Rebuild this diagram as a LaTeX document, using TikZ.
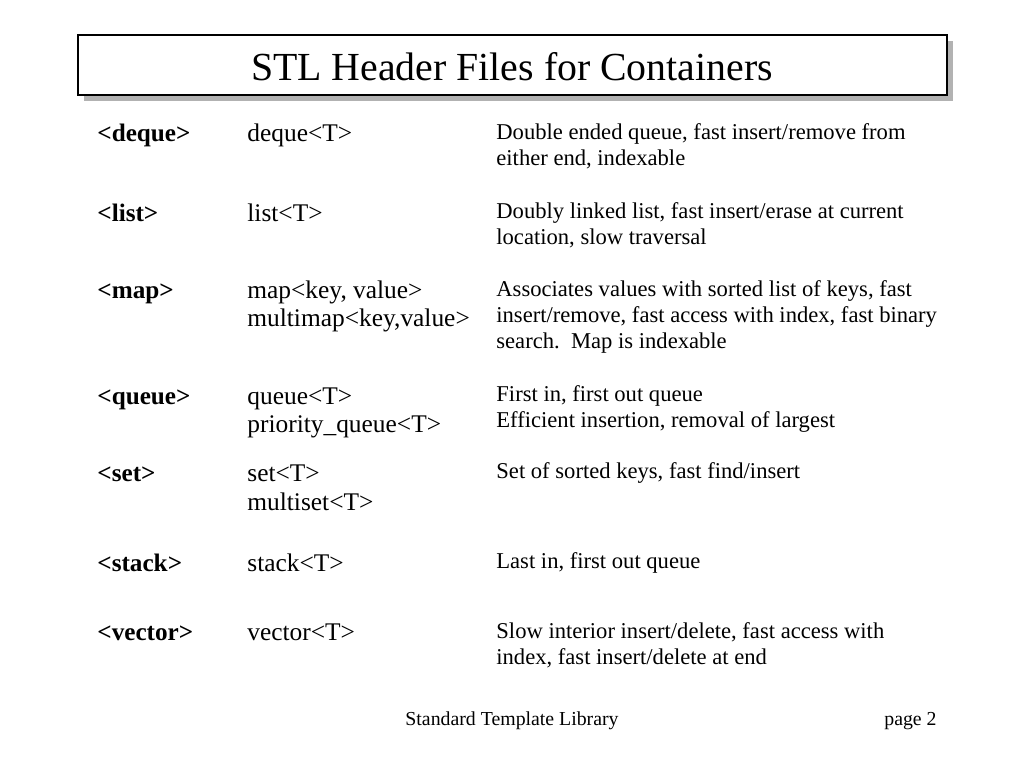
\documentclass[tikz,border=0pt]{standalone}
\usepackage{fontspec}
\setmainfont{Liberation Serif}
\begin{document}
\begin{tikzpicture}[x=0.5pt,y=-0.5pt,
   hdr/.style={anchor=base west,inner sep=0pt,font=\fontsize{12.6}{14}\selectfont\bfseries},
   cls/.style={anchor=base west,inner sep=0pt,font=\fontsize{12.7}{14}\selectfont},
   txt/.style={anchor=base west,inner sep=0pt,font=\fontsize{11.3}{13}\selectfont},
   foot/.style={inner sep=0pt,font=\fontsize{9.9}{11}\selectfont}]
   \useasboundingbox (0,0) rectangle (1024,768);
   % title box with shadow
   \fill[gray!60] (84,41) rectangle (953,101);
   \draw[fill=white,line width=0.6pt] (78,35) rectangle (947,95);
   \path (512,67) node[font=\fontsize{19.9}{22}\selectfont] (title) {STL Header Files for Containers};

   \path (97,141) node[hdr] (h1) {<deque>};
   \path (247,141) node[cls] (c1) {deque<T>};
   \path (496,139) node[txt] (d1a) {Double ended queue, fast insert/remove from};
   \path (496,165) node[txt] (d1b) {either end, indexable};

   \path (97,221) node[hdr] (h2) {<list>};
   \path (247,221) node[cls] (c2) {list<T>};
   \path (496,218) node[txt] (d2a) {Doubly linked list, fast insert/erase at current};
   \path (496,244) node[txt] (d2b) {location, slow traversal};

   \path (97,298) node[hdr] (h3) {<map>};
   \path (247,298) node[cls] (c3a) {map<key, value>};
   \path (247,326) node[cls] (c3b) {multimap<key,value>};
   \path (496,296) node[txt] (d3a) {Associates values with sorted list of keys, fast};
   \path (496,322) node[txt] (d3b) {insert/remove, fast access with index, fast binary};
   \path (496,348) node[txt] (d3c) {search.\ \ Map is indexable};

   \path (97,404) node[hdr] (h4) {<queue>};
   \path (247,404) node[cls] (c4a) {queue<T>};
   \path (247,432) node[cls] (c4b) {priority\_queue<T>};
   \path (496,401) node[txt] (d4a) {First in, first out queue};
   \path (496,427) node[txt] (d4b) {Efficient insertion, removal of largest};

   \path (97,481) node[hdr] (h5) {<set>};
   \path (247,481) node[cls] (c5a) {set<T>};
   \path (247,510) node[cls] (c5b) {multiset<T>};
   \path (496,478) node[txt] (d5) {Set of sorted keys, fast find/insert};

   \path (97,571) node[hdr] (h6) {<stack>};
   \path (247,571) node[cls] (c6) {stack<T>};
   \path (496,568) node[txt] (d6) {Last in, first out queue};

   \path (97,640) node[hdr] (h7) {<vector>};
   \path (247,640) node[cls] (c7) {vector<T>};
   \path (496,638) node[txt] (d7a) {Slow interior insert/delete, fast access with};
   \path (496,664) node[txt] (d7b) {index, fast insert/delete at end};

   \path (512,725) node[foot,anchor=base] (lib) {Standard Template Library};
   \path (937,725) node[foot,anchor=base east] (pg) {page 2};
\end{tikzpicture}
\end{document}
